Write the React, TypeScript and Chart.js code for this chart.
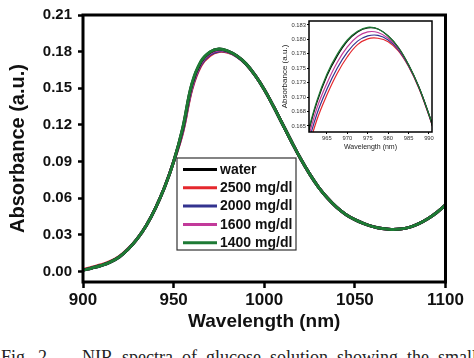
import React, { useEffect, useRef } from 'react';
import { Chart, registerables } from 'chart.js';

Chart.register(...registerables);

// ---------- data ----------
const wavelengths = [
  900, 905, 910, 915, 920, 925, 930, 935, 940, 945, 950, 955, 960, 965, 970, 975, 980, 985, 990, 995,
  1000, 1005, 1010, 1015, 1020, 1025, 1030, 1035, 1040, 1045, 1050, 1055, 1060, 1065, 1070, 1075, 1080,
  1085, 1090, 1095, 1100,
];

const waterMain = [
  0.0012, 0.003, 0.005, 0.0078, 0.012, 0.0185, 0.027, 0.038, 0.052, 0.069, 0.09, 0.117, 0.153, 0.1715,
  0.1795, 0.1821, 0.1805, 0.1765, 0.17, 0.1605, 0.149, 0.1355, 0.121, 0.1065, 0.0925, 0.08, 0.069, 0.06,
  0.0525, 0.0468, 0.0425, 0.0393, 0.0368, 0.0352, 0.0345, 0.0348, 0.0362, 0.039, 0.043, 0.0482, 0.0545,
];
const mg2500Main = [
  0.0018, 0.0036, 0.0056, 0.0083, 0.0124, 0.0188, 0.027, 0.038, 0.052, 0.069, 0.09, 0.114, 0.149, 0.1685,
  0.1768, 0.1801, 0.1794, 0.176, 0.1697, 0.1605, 0.149, 0.1355, 0.121, 0.1065, 0.0925, 0.08, 0.069, 0.06,
  0.0525, 0.0468, 0.0425, 0.0393, 0.0368, 0.0352, 0.0345, 0.0348, 0.0362, 0.039, 0.043, 0.0482, 0.0545,
];
const mg2000Main = [
  0.0012, 0.003, 0.005, 0.0078, 0.012, 0.0185, 0.027, 0.038, 0.052, 0.069, 0.09, 0.115, 0.15, 0.1695,
  0.1777, 0.1806, 0.1798, 0.1761, 0.1698, 0.1605, 0.149, 0.1355, 0.121, 0.1065, 0.0925, 0.08, 0.069, 0.06,
  0.0525, 0.0468, 0.0425, 0.0393, 0.0368, 0.0352, 0.0345, 0.0348, 0.0362, 0.039, 0.043, 0.0482, 0.0545,
];
const mg1600Main = [
  0.0012, 0.003, 0.005, 0.0078, 0.012, 0.0185, 0.027, 0.038, 0.052, 0.069, 0.09, 0.116, 0.151, 0.1705,
  0.1786, 0.1813, 0.1801, 0.1762, 0.1699, 0.1605, 0.149, 0.1355, 0.121, 0.1065, 0.0925, 0.08, 0.069, 0.06,
  0.0525, 0.0468, 0.0425, 0.0393, 0.0368, 0.0352, 0.0345, 0.0348, 0.0362, 0.039, 0.043, 0.0482, 0.0545,
];
const mg1400Main = [
  0.0012, 0.003, 0.005, 0.0078, 0.012, 0.0185, 0.027, 0.038, 0.052, 0.069, 0.09, 0.1175, 0.1535, 0.172,
  0.1797, 0.1822, 0.1805, 0.1765, 0.17, 0.1605, 0.149, 0.1355, 0.121, 0.1065, 0.0925, 0.08, 0.069, 0.06,
  0.0525, 0.0468, 0.0425, 0.0393, 0.0368, 0.0352, 0.0345, 0.0348, 0.0362, 0.039, 0.043, 0.0482, 0.0545,
];

const insetWavelengths = [960, 962.5, 965, 967.5, 970, 972.5, 975, 977.5, 980, 982.5, 985, 987.5, 990, 991];
const waterInset = [0.1628, 0.169, 0.1737, 0.1771, 0.1797, 0.1813, 0.182, 0.1818, 0.1806, 0.1786, 0.1756, 0.1718, 0.167, 0.1648];
const mg2500Inset = [0.16, 0.166, 0.1704, 0.1741, 0.177, 0.1791, 0.1801, 0.1802, 0.1796, 0.178, 0.1753, 0.1716, 0.1668, 0.1646];
const mg2000Inset = [0.161, 0.167, 0.1714, 0.175, 0.1778, 0.1797, 0.1806, 0.1807, 0.1799, 0.1782, 0.1754, 0.1717, 0.1669, 0.1647];
const mg1600Inset = [0.1618, 0.168, 0.1724, 0.176, 0.1787, 0.1805, 0.1813, 0.1812, 0.1802, 0.1784, 0.1755, 0.1717, 0.1669, 0.1647];
const mg1400Inset = [0.1631, 0.1693, 0.174, 0.1774, 0.1799, 0.1814, 0.1821, 0.1818, 0.1806, 0.1786, 0.1756, 0.1718, 0.167, 0.1648];

const seriesLabels = ['water', '2500 mg/dl', '2000 mg/dl', '1600 mg/dl', '1400 mg/dl'];
const seriesColors = ['#000000', '#e5272d', '#33338f', '#c23a9a', '#1d7a34'];
const drawOrder = [1, 4, 3, 2, 0];

const mainXTicks = [900, 950, 1000, 1050, 1100];
const mainYTicks = [0, 0.03, 0.06, 0.09, 0.12, 0.15, 0.18, 0.21];
const insetXTicks = [965, 970, 975, 980, 985, 990];
const insetYTicks = [0.165, 0.1675, 0.17, 0.1725, 0.175, 0.1775, 0.18, 0.1825];
const insetYTickLabels = ['0.165', '0.168', '0.170', '0.173', '0.175', '0.178', '0.180', '0.183'];

const SANS = '"Liberation Sans", Arial, sans-serif';

function framePlugin(id: string, width: number) {
  return {
    id,
    afterDatasetsDraw(chart: any) {
      const { ctx, chartArea } = chart;
      ctx.save();
      ctx.strokeStyle = '#000';
      ctx.lineWidth = width;
      ctx.strokeRect(chartArea.left, chartArea.top, chartArea.right - chartArea.left, chartArea.bottom - chartArea.top);
      ctx.restore();
    },
  };
}

const legendPlugin = {
  id: 'boxLegend',
  afterDraw(chart: any) {
    const { ctx } = chart;
    ctx.save();
    const bx = 177, by = 158, bw = 119, bh = 92;
    ctx.fillStyle = '#fff';
    ctx.fillRect(bx, by, bw, bh);
    ctx.strokeStyle = '#333';
    ctx.lineWidth = 1.2;
    ctx.strokeRect(bx, by, bw, bh);
    ctx.font = `bold 14px ${SANS}`;
    ctx.textBaseline = 'middle';
    ctx.textAlign = 'left';
    seriesLabels.forEach((label, i) => {
      const y = 169.5 + i * 18.3;
      ctx.strokeStyle = seriesColors[i];
      ctx.lineWidth = 3;
      ctx.beginPath();
      ctx.moveTo(183, y);
      ctx.lineTo(217, y);
      ctx.stroke();
      ctx.fillStyle = '#111';
      ctx.fillText(label, 220, y + 0.5);
    });
    ctx.restore();
  },
};

function buildDatasets(xs: number[], series: number[][], width: number) {
  return series.map((arr, i) => ({
    label: seriesLabels[i],
    data: arr.map((y, j) => ({ x: xs[j], y })),
    borderColor: seriesColors[i],
    backgroundColor: seriesColors[i],
    borderWidth: width,
    pointRadius: 0,
    fill: false,
    tension: 0.4,
    order: drawOrder[i],
  }));
}

export default function App() {
  const mainRef = useRef<HTMLCanvasElement>(null);
  const insetRef = useRef<HTMLCanvasElement>(null);

  useEffect(() => {
    const main = new Chart(mainRef.current as HTMLCanvasElement, {
      type: 'line',
      data: {
        datasets: buildDatasets(wavelengths, [waterMain, mg2500Main, mg2000Main, mg1600Main, mg1400Main], 3),
      },
      options: {
        responsive: false,
        animation: false,
        devicePixelRatio: 1,
        layout: { padding: { left: 0, top: 14, right: 28.5, bottom: 0 } },
        plugins: { legend: { display: false }, tooltip: { enabled: false } },
        scales: {
          x: {
            type: 'linear',
            min: 900,
            max: 1100,
            afterFit: (s: any) => { s.height = 53; },
            afterBuildTicks: (s: any) => { s.ticks = mainXTicks.map((v) => ({ value: v })); },
            grid: { display: true, drawOnChartArea: false, drawTicks: true, tickLength: 6, tickWidth: 2.5, tickColor: '#000' },
            border: { display: false },
            ticks: {
              font: { family: SANS, weight: 'bold', size: 17 },
              color: '#111',
              padding: 2,
              maxRotation: 0,
              autoSkip: false,
              callback: (v: any) => String(v),
            },
            title: {
              display: true,
              text: 'Wavelength (nm)',
              font: { family: SANS, weight: 'bold', size: 19 },
              color: '#111',
              padding: { top: 0, bottom: 2 },
            },
          },
          y: {
            type: 'linear',
            min: -0.0085,
            max: 0.21,
            afterFit: (s: any) => { s.width = 83; },
            afterBuildTicks: (s: any) => { s.ticks = mainYTicks.map((v) => ({ value: v })); },
            grid: { display: true, drawOnChartArea: false, drawTicks: true, tickLength: 5, tickWidth: 2.5, tickColor: '#000' },
            border: { display: false },
            ticks: {
              font: { family: SANS, weight: 'bold', size: 15 },
              color: '#111',
              padding: 6,
              autoSkip: false,
              callback: (v: any) => Number(v).toFixed(2),
            },
            title: {
              display: true,
              text: 'Absorbance (a.u.)',
              font: { family: SANS, weight: 'bold', size: 20 },
              color: '#111',
              padding: { top: 6, bottom: 0 },
            },
          },
        },
      },
      plugins: [framePlugin('mainFrame', 3), legendPlugin],
    } as any);

    const inset = new Chart(insetRef.current as HTMLCanvasElement, {
      type: 'line',
      data: {
        datasets: buildDatasets(insetWavelengths, [waterInset, mg2500Inset, mg2000Inset, mg1600Inset, mg1400Inset], 1.2),
      },
      options: {
        responsive: false,
        animation: false,
        devicePixelRatio: 1,
        layout: { padding: { left: 0, top: 13, right: 14, bottom: 0 } },
        plugins: { legend: { display: false }, tooltip: { enabled: false } },
        scales: {
          x: {
            type: 'linear',
            min: 960.6,
            max: 990.74,
            afterFit: (s: any) => { s.height = 26; },
            afterBuildTicks: (s: any) => { s.ticks = insetXTicks.map((v) => ({ value: v })); },
            grid: { display: true, drawOnChartArea: false, drawTicks: true, tickLength: 2, tickWidth: 1, tickColor: '#000' },
            border: { display: false },
            ticks: {
              font: { family: SANS, size: 5.8 },
              color: '#333',
              padding: 1,
              maxRotation: 0,
              autoSkip: false,
              callback: (v: any) => String(v),
            },
            title: {
              display: true,
              text: 'Wavelength (nm)',
              font: { family: SANS, size: 7 },
              color: '#222',
              padding: { top: 0, bottom: 6.8 },
            },
          },
          y: {
            type: 'linear',
            min: 0.16396,
            max: 0.18319,
            afterFit: (s: any) => { s.width = 39; },
            afterBuildTicks: (s: any) => { s.ticks = insetYTicks.map((v) => ({ value: v })); },
            grid: { display: true, drawOnChartArea: false, drawTicks: true, tickLength: 2, tickWidth: 1, tickColor: '#000' },
            border: { display: false },
            ticks: {
              font: { family: SANS, size: 5.8 },
              color: '#333',
              padding: 1,
              autoSkip: false,
              callback: (_v: any, i: number) => insetYTickLabels[i],
            },
            title: {
              display: true,
              text: 'Absorbance (a.u.)',
              font: { family: SANS, size: 8 },
              color: '#222',
              padding: { top: 9.7, bottom: 0 },
            },
          },
        },
      },
      plugins: [framePlugin('insetFrame', 1.5)],
    } as any);

    return () => {
      main.destroy();
      inset.destroy();
    };
  }, []);

  return (
    <div style={{ position: 'absolute', left: 0, top: 0, width: 474, height: 358, overflow: 'hidden', background: '#fff' }}>
      <canvas ref={mainRef} width={474} height={335} style={{ position: 'absolute', left: 0, top: 0, width: 474, height: 335 }} />
      <canvas ref={insetRef} width={176} height={150} style={{ position: 'absolute', left: 270, top: 8, width: 176, height: 150 }} />
      <div
        style={{
          position: 'absolute',
          top: 348,
          left: 0,
          width: 474,
          fontFamily: '"Liberation Serif", "Times New Roman", serif',
          fontSize: 18,
          lineHeight: '18px',
          whiteSpace: 'nowrap',
          color: '#222',
        }}
      >
        <span style={{ position: 'absolute', left: 1, wordSpacing: 4 }}>Fig. 2.</span>
        <span style={{ position: 'absolute', left: 82, wordSpacing: 4.5 }}>
          NIR spectra of glucose solution showing the small
        </span>
      </div>
    </div>
  );
}
